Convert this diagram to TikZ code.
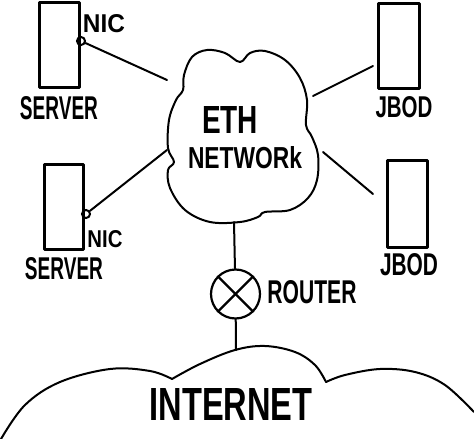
\documentclass[tikz,border=0pt]{standalone}
\usepackage{fontspec}
\setmainfont{Liberation Sans}
\usepackage{graphicx}
\tikzset{
  box/.style={draw, line width=3pt, inner sep=0pt, line join=round},
  lbl/.style={inner sep=0pt, font=\bfseries},
  cloudline/.style={line width=2pt, line cap=round, line join=round},
  wire/.style={line width=2pt, line cap=round},
  nicring/.style={draw, circle, line width=2pt, minimum size=8pt, inner sep=0pt},
}
\begin{document}
\begin{tikzpicture}[x=1pt,y=-1pt]
\useasboundingbox (0,0) rectangle (474,439);
% devices
\node[box, minimum width=40pt, minimum height=85pt] (srv1) at (59,44.5) {};
\node[box, minimum width=39pt, minimum height=85pt] (srv2) at (63.5,206.5) {};
\node[box, minimum width=41pt, minimum height=85pt] (jbod1) at (398.5,45.5) {};
\node[box, minimum width=40pt, minimum height=87pt] (jbod2) at (407,203.5) {};
% NICs
\node[nicring] (nic1) at (81,41) {};
\node[nicring] (nic2) at (86,214) {};
% labels
\node[lbl] (tnic1) at (104,24) {\resizebox{42pt}{18pt}{NIC}};
\node[lbl] (tsrv1) at (59,108) {\resizebox{78pt}{23pt}{SERVER}};
\node[lbl] (tnic2) at (105,239) {\resizebox{35pt}{17pt}{NIC}};
\node[lbl] (tsrv2) at (64,269) {\resizebox{78pt}{22pt}{SERVER}};
\node[lbl] (tjb1) at (404,107) {\resizebox{57pt}{21pt}{JBOD}};
\node[lbl] (tjb2) at (409,265) {\resizebox{58pt}{22pt}{JBOD}};
\node[lbl] (teth) at (230,120) {\resizebox{56pt}{27pt}{ETH}};
\node[lbl] (tnet) at (245,158) {\resizebox{114pt}{22pt}{NETWORk}};
\node[lbl] (trt) at (312,292) {\resizebox{89pt}{23pt}{ROUTER}};
\node[lbl] (tinet) at (231,404) {\resizebox{163pt}{32pt}{INTERNET}};
% ETH cloud
\draw[cloudline] plot[smooth cycle, tension=0.6] coordinates {
 (184,75) (192,57) (207,50) (225,53) (240,62) (250,53) (265,51) (285,60)
 (300,78) (307,100) (306,125) (312,137) (318,155) (317,180) (308,198)
 (290,210) (265,212) (258,217) (240,222) (210,222) (185,210) (170,188)
 (168,170) (174,162) (168,148) (169,120) (176,100) (183,90)};
% Internet cloud
\draw[cloudline] plot[smooth, tension=0.6] coordinates {
 (1,439) (25,405) (60,382) (110,369) (150,371) (172,379)};
\draw[cloudline] plot[smooth, tension=0.6] coordinates {
 (172,379) (200,364) (235,350) (265,346) (295,352) (315,365) (326,382)};
\draw[cloudline] plot[smooth, tension=0.6] coordinates {
 (326,382) (345,375) (380,369) (415,372) (445,385) (474,412)};
% router
\node[draw, circle, line width=2.2pt, minimum size=49pt, inner sep=0pt] (router) at (235.5,294) {};
\draw[line width=2.2pt] (router.north west) -- (router.south east);
\draw[line width=2.2pt] (router.north east) -- (router.south west);
% connection points
\coordinate (e1) at (167,80);
\coordinate (e2) at (167,150);
\coordinate (e3) at (313,96);
\coordinate (j1) at (373,66);
\coordinate (e4) at (323,152);
\coordinate (j2) at (373,194);
\coordinate (ebot) at (234,222);
\coordinate (itop) at (236,350);
% wires
\draw[wire] (nic1) -- (e1);
\draw[wire] (nic2) -- (e2);
\draw[wire] (e3) -- (j1);
\draw[wire] (e4) -- (j2);
\draw[wire] (ebot) -- (router);
\draw[wire] (router) -- (itop);
\end{tikzpicture}
\end{document}
